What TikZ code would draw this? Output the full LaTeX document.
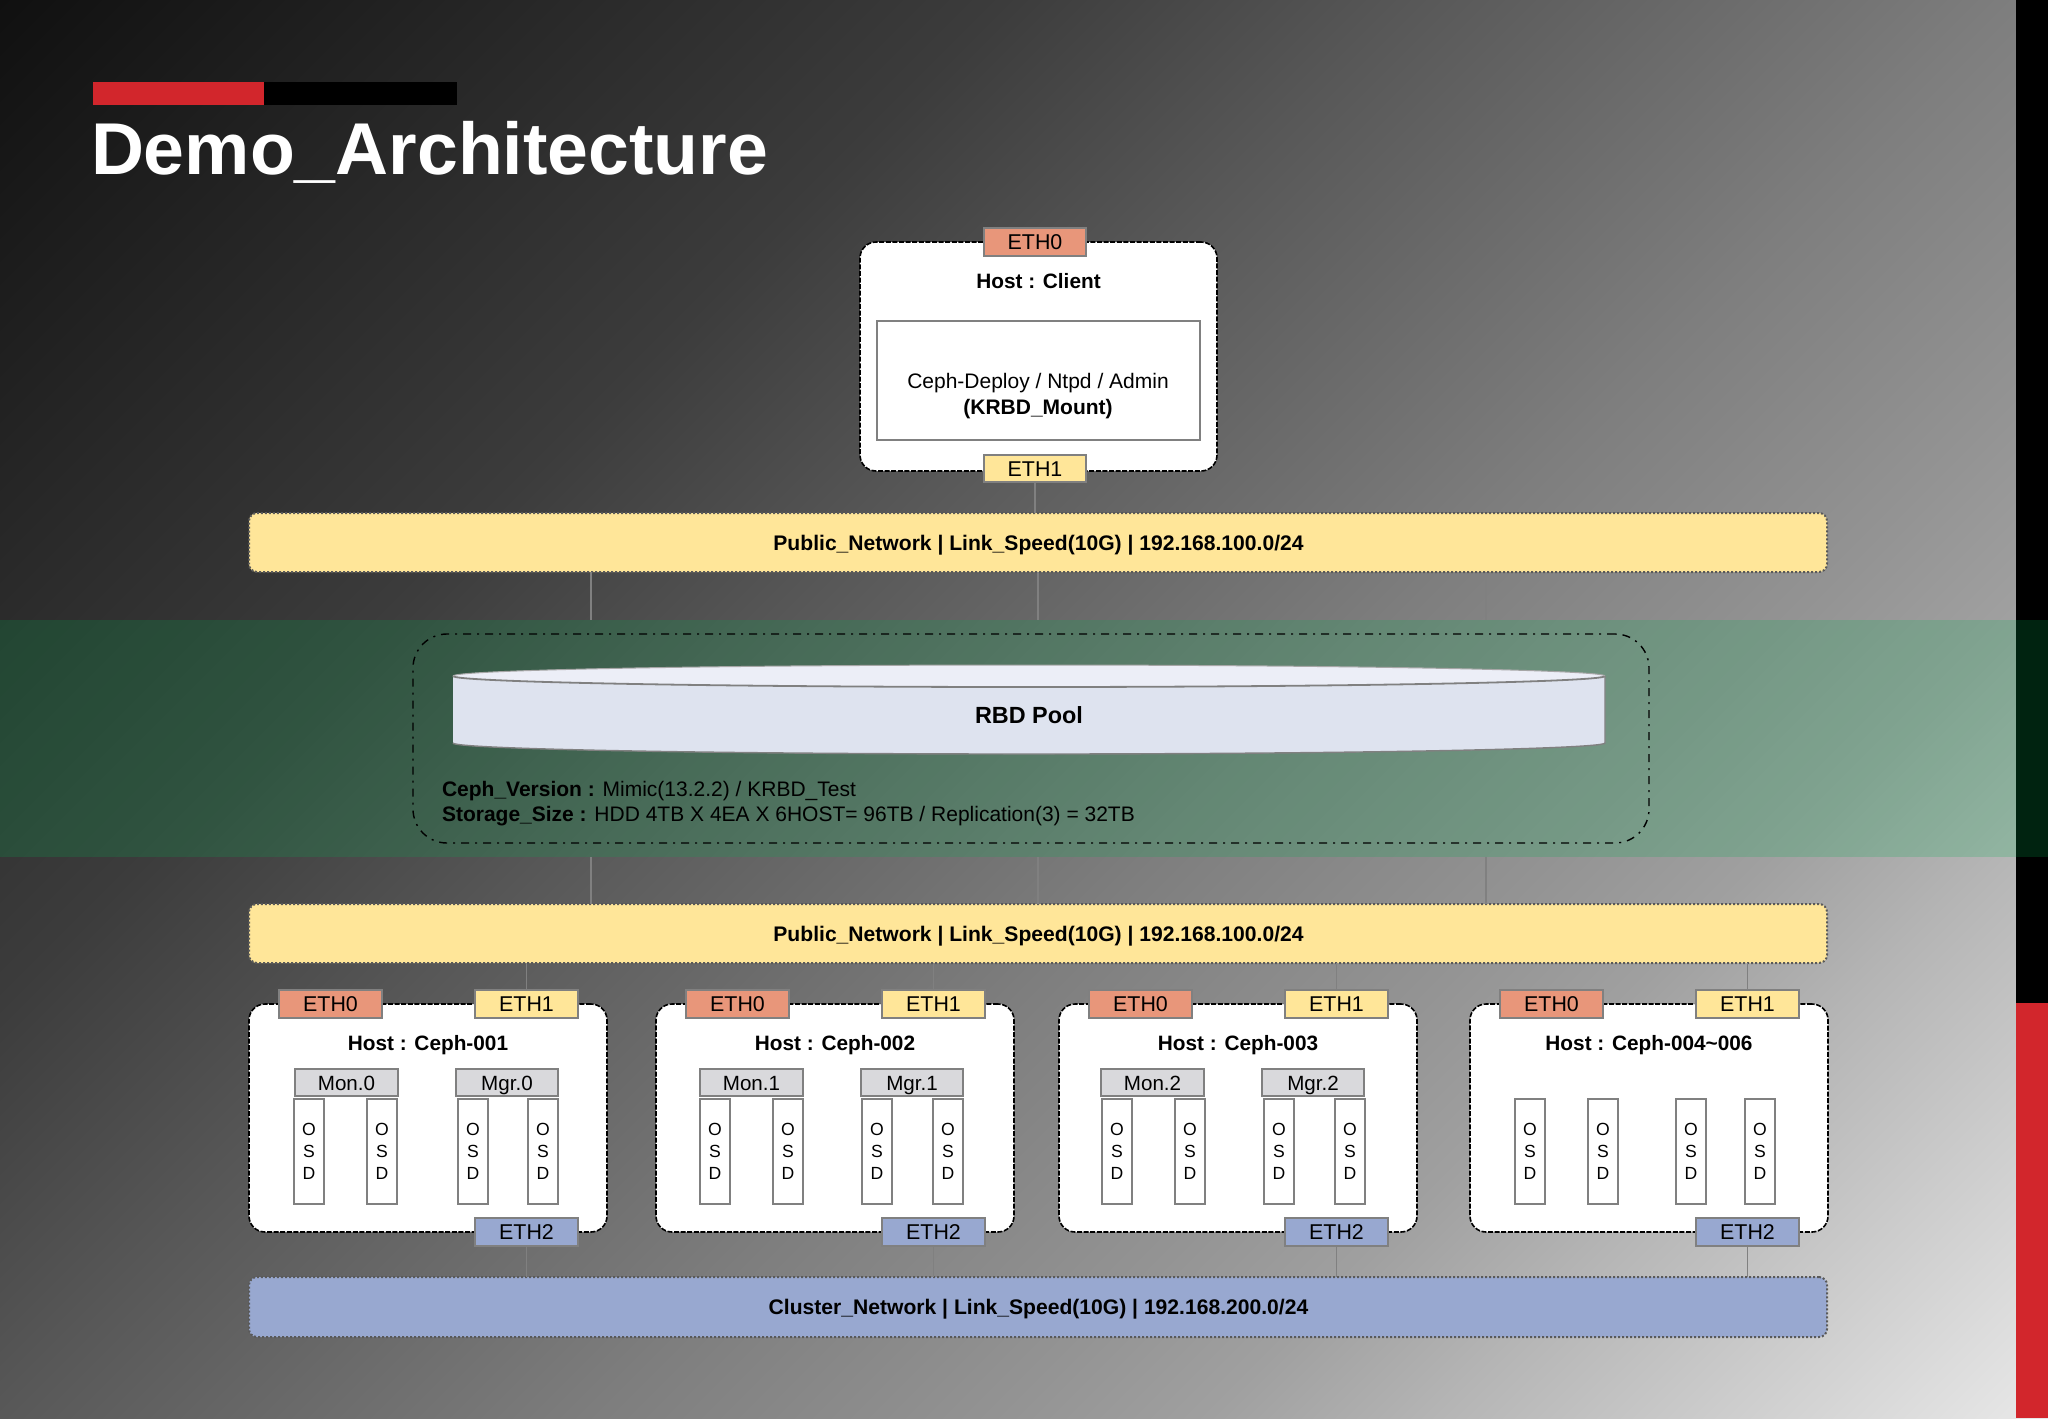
\documentclass[tikz,border=0pt]{standalone}
\usepackage{fontspec}
\setmainfont{Liberation Sans}
\pgfdeclarehorizontalshading{bgsh}{1460pt}{rgb(0pt)=(0.063,0.063,0.063); rgb(355pt)=(0.235,0.235,0.235); rgb(501pt)=(0.345,0.345,0.345); rgb(713pt)=(0.494,0.494,0.494); rgb(857pt)=(0.58,0.58,0.58); rgb(928pt)=(0.627,0.627,0.627); rgb(1014pt)=(0.714,0.714,0.714); rgb(1214pt)=(0.902,0.902,0.902); rgb(1230pt)=(0.91,0.91,0.91)}
\definecolor{netY}{RGB}{255,230,153}
\definecolor{netB}{RGB}{152,168,208}
\definecolor{ethO}{RGB}{232,150,122}
\definecolor{svc}{RGB}{217,217,220}
\definecolor{linkg}{RGB}{128,128,128}
\definecolor{redb}{RGB}{210,38,44}
\definecolor{bandg}{RGB}{0,176,80}
\definecolor{cylb}{RGB}{222,227,239}
\definecolor{cylt}{RGB}{236,238,247}
\tikzset{
  base/.style={inner sep=0pt,outer sep=0pt,text=black,align=center},
  txt/.style={base,font=\fontsize{10.5}{13}\selectfont},
  btxt/.style={base,font=\fontsize{10.4}{13}\selectfont\bfseries},
  host/.style={base,draw=black,fill=white,line width=0.8pt,dash pattern=on 2.5pt off 0.8pt,rounded corners=8pt},
  net/.style={base,draw=black!65,line width=1pt,dash pattern=on 1pt off 1pt,rounded corners=4pt},
  nettext/.style={base,font=\fontsize{10.55}{13}\selectfont\bfseries},
  port/.style={base,draw=linkg,line width=0.8pt,font=\fontsize{10.7}{13}\selectfont,text height=7.6pt,text depth=0pt},
  svcbox/.style={base,draw=linkg,fill=svc,line width=0.8pt,font=\fontsize{10.3}{13}\selectfont,text height=7.6pt,text depth=0pt},
  osd/.style={base,draw=linkg,fill=white,line width=0.8pt,font=\fontsize{8.8}{11}\selectfont},
  link/.style={draw=linkg,line width=0.9pt},
}
\newcommand{\bx}[7][]{\node[#3,minimum width={((#6)-(#4))*0.5pt},minimum height={((#7)-(#5))*0.5pt},#1] (#2) at ({((#4)+(#6))/2},{((#5)+(#7))/2})}
\newcommand{\hostunit}[7]{%
  \bx{h#1}{host}{249+#2}{1004}{607+#2}{1232}{};
  \node[btxt] (t#1) at (428+#2,1045) {Host : #3};
  \bx{ea#1}{port,fill=ethO}{279+#2}{990}{382+#2}{1018}{ETH0};
  \bx{eb#1}{port,fill=netY}{475+#2}{990}{578+#2}{1018}{ETH1};
  \bx{ec#1}{port,fill=netB}{475+#2}{1218}{578+#2}{1246}{ETH2};
  \bx{oa#1}{osd}{#4}{1099}{#4+30}{1204}{O\\S\\D};
  \bx{ob#1}{osd}{#5}{1099}{#5+30}{1204}{O\\S\\D};
  \bx{oc#1}{osd}{#6}{1099}{#6+30}{1204}{O\\S\\D};
  \bx{od#1}{osd}{#7}{1099}{#7+30}{1204}{O\\S\\D};
  \draw[link] (eb#1.north) -- (eb#1.north |- netb.south);
  \draw[link] (ec#1.south) -- (ec#1.south |- netc.north);
}
\newcommand{\svcpair}[4]{%
  \bx{mo#1}{svcbox}{295+#2}{1069}{398+#2}{1096}{#3};
  \bx{mg#1}{svcbox}{456+#2}{1069}{558+#2}{1096}{#4};
}
\begin{document}
\begin{tikzpicture}[x=0.5pt,y=-0.5pt]
\useasboundingbox (0,0) rectangle (2048,1418);
% background
\begin{scope}
\clip (0,0) rectangle (2048,1418);
\node[inner sep=0pt,outer sep=0pt,anchor=west,rotate=-45] (bg) at (0,0) {\pgfuseshading{bgsh}};
\end{scope}
\fill[black] (2016,0) rectangle (2048,1003);
\fill[redb] (2016,1003) rectangle (2048,1418);
\fill[bandg,fill opacity=0.2] (0,620) rectangle (2048,857);
% title
\fill[black] (264,82) rectangle (457,105);
\fill[redb] (93,82) rectangle (264,105);
\node[base,anchor=base west,text=white,font=\fontsize{36.7}{40}\selectfont\bfseries] (title) at (91,174) {Demo\_Architecture};
% anchors at the band edges
\coordinate (ua) at (591,620);
\coordinate (ub) at (1038,620);
\coordinate (uc) at (1486,620);
\coordinate (la) at (591,857);
\coordinate (lb) at (1038,857);
\coordinate (lc) at (1486,857);
% pool box
\bx[line width=0.7pt,dash pattern=on 4pt off 3pt on 1pt off 3pt,rounded corners=17pt]{pool}{base,draw=black}{413}{634}{1649}{843}{};
\fill[cylb] (453,676) -- (453,743) .. controls (453,749) and (711,754) .. (1029,754) .. controls (1347,754) and (1605,749) .. (1605,743) -- (1605,676) -- cycle;
\draw[linkg,line width=0.7pt] (453,743) .. controls (453,749) and (711,754) .. (1029,754) .. controls (1347,754) and (1605,749) .. (1605,743) -- (1605,676);
\fill[cylt] (1029,676) ellipse [x radius=576,y radius=11];
\draw[linkg,line width=0.9pt] (453,676) .. controls (453,682) and (711,687) .. (1029,687) .. controls (1347,687) and (1605,682) .. (1605,676);
\draw[linkg!70,line width=0.5pt] (453,676) .. controls (453,670) and (711,665) .. (1029,665) .. controls (1347,665) and (1605,670) .. (1605,676);
\node[base,font=\fontsize{11.7}{14}\selectfont\bfseries] (rbd) at (1029,715) {RBD Pool};
\node[txt,anchor=west,align=left,font=\fontsize{10.5}{12.4}\selectfont] (info) at (442,804) {\textbf{Ceph\_Version :} Mimic(13.2.2) / KRBD\_Test\\\textbf{Storage\_Size :} HDD 4TB X 4EA X 6HOST= 96TB / Replication(3) = 32TB};
% networks
\bx{neta}{net,fill=netY}{249}{513}{1827}{572}{};
\bx{netb}{net,fill=netY}{249}{904}{1827}{963}{};
\bx{netc}{net,fill=netB}{249}{1277}{1827}{1337}{};
\node[nettext] (netat) at (1038.5,545) {Public\_Network | Link\_Speed(10G) | 192.168.100.0/24};
\node[nettext] (netbt) at (1038.5,936) {Public\_Network | Link\_Speed(10G) | 192.168.100.0/24};
\node[nettext] (netct) at (1038.5,1309.5) {Cluster\_Network | Link\_Speed(10G) | 192.168.200.0/24};
\draw[link] (neta.south -| ua) -- (ua);
\draw[link] (neta.south -| ub) -- (ub);
\draw[link] (neta.south -| uc) -- (uc);
\draw[link] (la) -- (netb.north -| la);
\draw[link] (lb) -- (netb.north -| lb);
\draw[link] (lc) -- (netb.north -| lc);
% client
\bx{client}{host}{860}{242}{1217}{471}{};
\node[btxt] (clientt) at (1038.5,281) {Host : Client};
\bx{clientbox}{base,draw=linkg,fill=white,line width=0.8pt}{877}{321}{1200}{440}{};
\node[txt] (clienttxt) at (1038,396) {Ceph-Deploy / Ntpd / Admin\\\textbf{(KRBD\_Mount)}};
\bx{ce0}{port,fill=ethO}{984}{228}{1086}{256}{ETH0};
\bx{ce1}{port,fill=netY}{984}{455}{1086}{482}{ETH1};
\draw[link] (ce1.south) -- (ce1.south |- neta.north);
% hosts
\hostunit{1}{0}{Ceph-001}{294}{367}{458}{528}
\hostunit{2}{407}{Ceph-002}{700}{773}{862}{933}
\hostunit{3}{810}{Ceph-003}{1102}{1175}{1264}{1335}
\hostunit{4}{1221}{Ceph-004\textasciitilde006}{1515}{1588}{1676}{1745}
\svcpair{1}{0}{Mon.0}{Mgr.0}
\svcpair{2}{405}{Mon.1}{Mgr.1}
\svcpair{3}{806}{Mon.2}{Mgr.2}
\end{tikzpicture}
\end{document}
